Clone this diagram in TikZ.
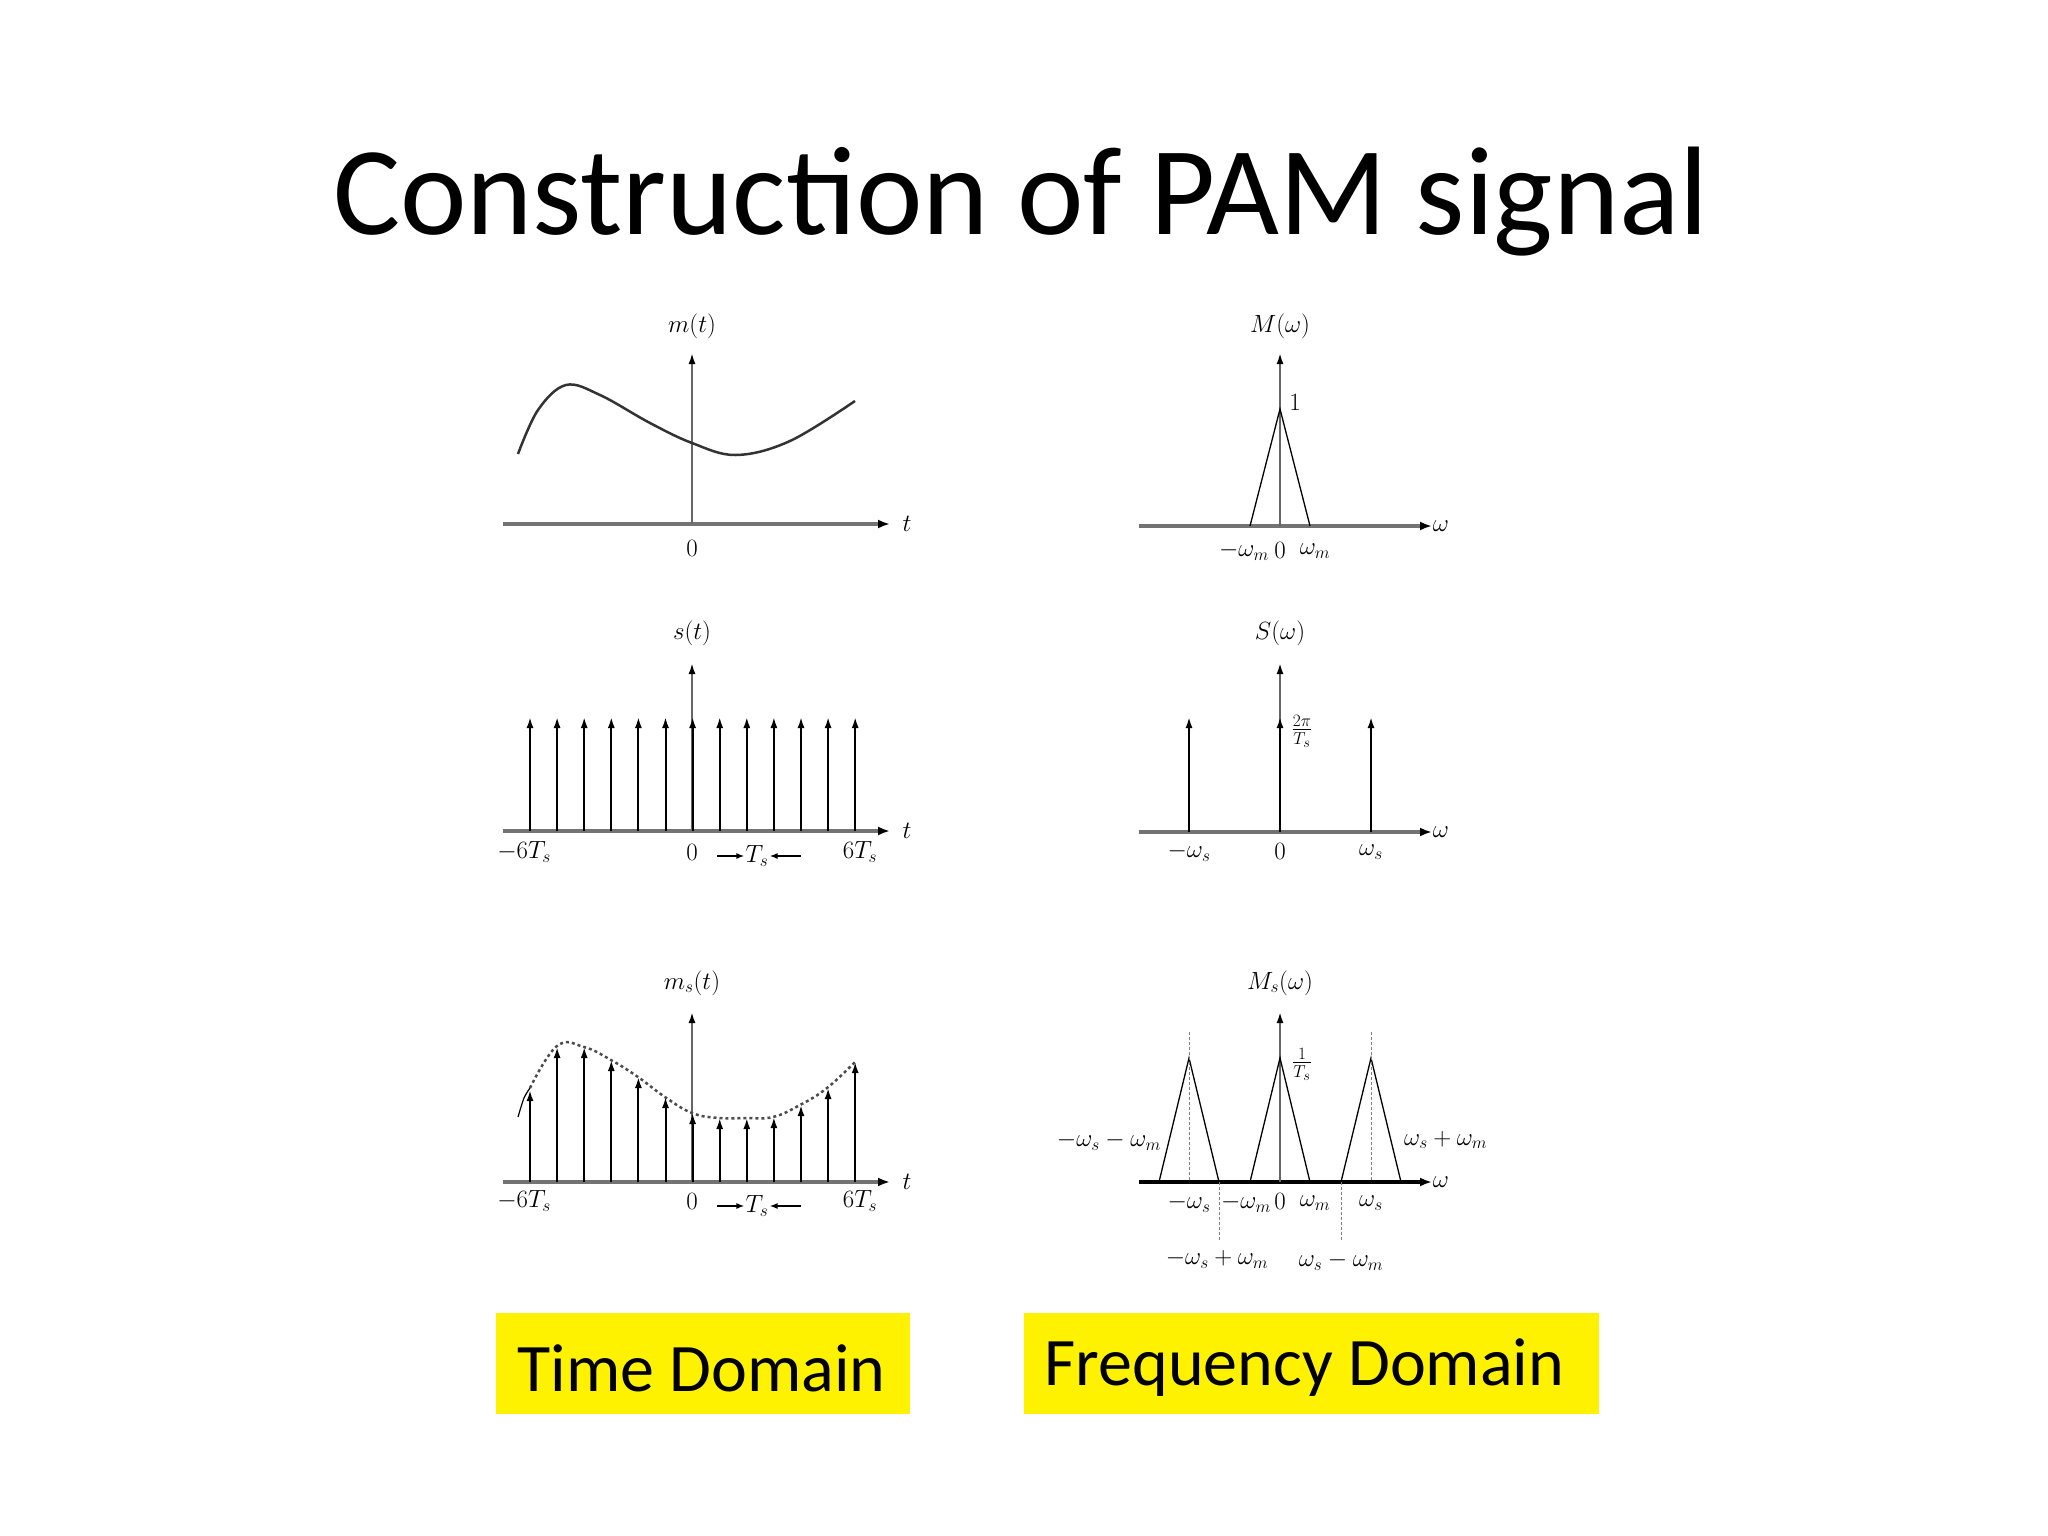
\documentclass[tikz,border=0pt]{standalone}
\usepackage{fontspec}
\setmainfont{Carlito}
\usetikzlibrary{arrows.meta}
\begin{document}
\begin{tikzpicture}[x=1pt,y=-1pt,
  ax/.style={line width=3.5pt,draw=black!55,-{Latex[length=12pt,width=9pt,black]}},
  vax/.style={line width=2pt,draw=black!60,-{Latex[length=11pt,width=7pt,black]}},
  imp/.style={line width=2pt,-{Latex[length=11pt,width=7pt]}},
  lab/.style={font=\fontsize{27}{29}\selectfont\itshape, inner sep=1pt},
  tri/.style={line width=1.3pt}]
\useasboundingbox (0,0) rectangle (2048,1536);
\node (title) at (1021,202) {\fontsize{126}{140}\selectfont Construction of PAM signal};
% ---------- time panel 1
\coordinate (a1l) at (503,524); \coordinate (a1r) at (890,524);
\coordinate (a1o) at (692,524); \coordinate (a1t) at (692,353);
\draw[ax] (a1l) -- (a1r);
\draw[vax] (a1o) -- (a1t);
\node[lab] (m1) at (692,326) {$m(t)$};
\node[lab] (t1) at (907,524) {$t$};
\node[lab] (z1) at (692,548) {$0$};
\draw[line width=2.5pt,black!80] plot[smooth,tension=0.6] coordinates {(518,454) (538,410) (566,385) (600,395) (650,423) (692,443) (736,455) (790,441) (855,401)};
% ---------- time panel 2
\coordinate (a2l) at (503,831); \coordinate (a2r) at (890,831);
\coordinate (a2o) at (692,831); \coordinate (a2t) at (692,663);
\draw[ax] (a2l) -- (a2r);
\draw[vax] (a2o) -- (a2t);
\foreach \k in {0,...,12}{\draw[imp] (530+27.1*\k,831) -- (530+27.1*\k,717);}
\node[lab] (s2) at (692,633) {$s(t)$};
\node[lab] (t2) at (907,831) {$t$};
\node[lab] (n2) at (524,852) {$-6T_s$};
\node[lab] (z2) at (692,852) {$0$};
\node[lab] (p2) at (860,852) {$6T_s$};
\node[lab] (ts2) at (757,856) {$T_s$};
\draw[line width=2pt,-{Latex[length=8pt]}] (717,856) -- (ts2.west);
\draw[line width=2pt,-{Latex[length=8pt]}] (801,856) -- (ts2.east);
% ---------- time panel 3
\coordinate (a3l) at (503,1182); \coordinate (a3r) at (890,1182);
\coordinate (a3o) at (692,1182); \coordinate (a3t) at (692,1012);
\draw[ax] (a3l) -- (a3r);
\draw[vax] (a3o) -- (a3t);
\draw[line width=1.2pt] plot[smooth] coordinates {(518,1117) (524,1098) (530,1088)};
\draw[line width=2.5pt,black!70,dash pattern=on 3pt off 3pt] plot[smooth,tension=0.7] coordinates {(530,1088) (557,1046) (584,1047) (611,1060) (638,1077) (665,1097) (692,1113) (719,1118) (746,1118) (773,1117) (800,1105) (827,1088) (855,1062)};
\foreach \k/\h in {0/1090,1/1047,2/1047,3/1060,4/1077,5/1097,6/1113,7/1118,8/1118,9/1117,10/1105,11/1088,12/1062}{\draw[imp] (530+27.1*\k,1182) -- (530+27.1*\k,\h);}
\node[lab] (s3) at (692,983) {$m_s(t)$};
\node[lab] (t3) at (907,1182) {$t$};
\node[lab] (n3) at (524,1201) {$-6T_s$};
\node[lab] (z3) at (692,1201) {$0$};
\node[lab] (p3) at (860,1201) {$6T_s$};
\node[lab] (ts3) at (757,1206) {$T_s$};
\draw[line width=2pt,-{Latex[length=8pt]}] (717,1206) -- (ts3.west);
\draw[line width=2pt,-{Latex[length=8pt]}] (801,1206) -- (ts3.east);
% ---------- freq panel 1
\coordinate (f1l) at (1139,526); \coordinate (f1r) at (1432,526);
\coordinate (f1o) at (1280,526); \coordinate (f1t) at (1280,353);
\draw[ax] (f1l) -- (f1r);
\draw[vax] (f1o) -- (f1t);
\draw[tri] (1250,526) -- (1280,409) -- (1310,526);
\node[lab] (M1) at (1280,326) {$M(\omega)$};
\node[lab] (w1) at (1441,526) {$\omega$};
\node[lab] (one) at (1295,402) {$1$};
\node[lab] (l1a) at (1244,551) {$-\omega_m$};
\node[lab] (l1b) at (1280,550) {$0$};
\node[lab] (l1c) at (1315,551) {$\omega_m$};
% ---------- freq panel 2
\coordinate (f2l) at (1139,832); \coordinate (f2r) at (1432,832);
\coordinate (f2o) at (1280,832); \coordinate (f2t) at (1280,663);
\draw[ax] (f2l) -- (f2r);
\draw[vax] (f2o) -- (f2t);
\draw[imp] (1189,832) -- (1189,717);
\draw[imp] (1371,832) -- (1371,717);
\draw[imp] (1280,832) -- (1280,717);
\node[lab] (S2) at (1280,633) {$S(\omega)$};
\node[lab] (w2) at (1441,832) {$\omega$};
\node[lab] (tp) at (1302,731) {$\frac{2\pi}{T_s}$};
\node[lab] (m2a) at (1189,852) {$-\omega_s$};
\node[lab] (m2b) at (1280,851) {$0$};
\node[lab] (m2c) at (1371,852) {$\omega_s$};
% ---------- freq panel 3
\coordinate (f3l) at (1139,1182); \coordinate (f3r) at (1432,1182);
\coordinate (f3o) at (1280,1182); \coordinate (f3t) at (1280,1012);
\draw[ax,draw=black] (f3l) -- (f3r);
\draw[vax] (f3o) -- (f3t);
\foreach \c in {1189,1280,1371}{\draw[tri] (\c-30,1182) -- (\c,1058) -- (\c+30,1182);}
\draw[densely dashed,black!50] (1189,1032) -- (1189,1182);
\draw[densely dashed,black!50] (1371,1032) -- (1371,1182);
\draw[densely dashed,black!50] (1219,1182) -- (1219,1240);
\draw[densely dashed,black!50] (1341,1182) -- (1341,1240);
\node[lab] (M3) at (1280,983) {$M_s(\omega)$};
\node[lab] (w3) at (1441,1182) {$\omega$};
\node[lab] (ot) at (1302,1064) {$\frac{1}{T_s}$};
\node[lab,anchor=east] (q1) at (1162,1141) {$-\omega_s-\omega_m$};
\node[lab,anchor=west] (q2) at (1403,1140) {$\omega_s+\omega_m$};
\node[lab] (q3) at (1189,1203) {$-\omega_s$};
\node[lab] (q4) at (1246,1203) {$-\omega_m$};
\node[lab] (q5) at (1280,1201) {$0$};
\node[lab] (q6) at (1315,1203) {$\omega_m$};
\node[lab] (q7) at (1371,1203) {$\omega_s$};
\node[lab] (q8) at (1217,1259) {$-\omega_s+\omega_m$};
\node[lab] (q9) at (1341,1261) {$\omega_s-\omega_m$};
% ---------- yellow boxes
\fill[yellow] (496,1313) rectangle (910,1414);
\fill[yellow] (1024,1313) rectangle (1599,1414);
\node[anchor=west] (td) at (514,1368) {\fontsize{68}{78}\selectfont Time Domain};
\node[anchor=west] (fd) at (1041,1368) {\fontsize{68}{78}\selectfont Frequency Domain};
\end{tikzpicture}
\end{document}
